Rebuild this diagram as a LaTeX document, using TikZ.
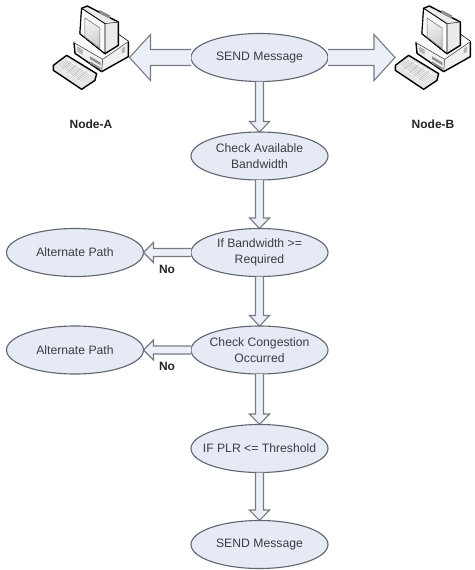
\documentclass[tikz,border=0pt]{standalone}
\usepackage{fontspec}
\setmainfont{Liberation Sans}
\usetikzlibrary{shapes.geometric,calc}
\definecolor{ellfill}{HTML}{E5EAF5}
\definecolor{ellline}{HTML}{5F6670}
\definecolor{arrfill}{HTML}{EBEFF8}
\definecolor{arrline}{HTML}{777B82}
\definecolor{txt}{HTML}{3A3D42}
\tikzset{
  flow/.style={ellipse,draw=ellline,fill=ellfill,line width=1.1pt,inner sep=0pt,outer sep=0pt,
    minimum width=137pt,minimum height=48pt,align=center,text=txt,
    font=\fontsize{12.2}{16.5}\selectfont},
  tag/.style={font=\bfseries\fontsize{12}{14}\selectfont,text=black!85,inner sep=0pt},
  conn/.style={draw=arrline,fill=arrfill,line width=1.1pt,line join=miter},
  pcline/.style={draw=black,line width=1.4pt,line join=round},
  pcthin/.style={draw=black!28,line width=.4pt},
}
\newcommand{\lbl}[1]{\makebox[0pt][c]{#1}}
\newcommand{\blockarrow}[5]{%
  \coordinate (ba) at ($(#2)!#5pt!(#1)$);
  \draw[conn] ($(#1)!#3pt!90:(#2)$) -- ($(ba)!#3pt!90:(#2)$) -- ($(ba)!#4pt!90:(#2)$) -- (#2)
    -- ($(ba)!#4pt!-90:(#2)$) -- ($(ba)!#3pt!-90:(#2)$) -- ($(#1)!#3pt!-90:(#2)$);}
\newcommand{\computer}[2]{%
  \begin{scope}[shift={(#1,#2)},x=0.3333pt,y=-0.3333pt]
    % keyboard
    \draw[pcline,fill=black!10] (10,190) -- (50,160) -- (140,215) -- (135,235) -- (95,262) -- (10,205) -- cycle;
    \fill[black!3] (22,190) -- (50,170) -- (126,216) -- (96,245) -- cycle;
    \foreach \t in {.2,.4,.6,.8}{
      \draw[pcthin] ($(22,190)!\t!(96,245)$) -- ($(50,170)!\t!(126,216)$);}
    \foreach \t in {.12,.24,.36,.48,.6,.72,.84}{
      \draw[pcthin] ($(22,190)!\t!(50,170)$) -- ($(96,245)!\t!(126,216)$);}
    % desktop box
    \draw[pcline,fill=black!6] (72,122) -- (75,154) -- (155,209) -- (235,164) -- (235,119) -- (200,94) -- cycle;
    \fill[black!2] (72,122) -- (158,172) -- (235,119) -- (200,94) -- (120,80) -- cycle;
    \draw[black!70,line width=.6pt] (72,122) -- (158,172) -- (235,119);
    \draw[black!70,line width=.6pt] (158,172) -- (155,209);
    % drive bays and vents
    \fill[black!45] (120,163) -- (152,182) -- (152,190) -- (120,171) -- cycle;
    \fill[black!45] (120,178) -- (152,197) -- (152,203) -- (120,185) -- cycle;
    \foreach \i in {0,2,4,6}{\draw[black!45,line width=.5pt] (82,{135+\i*2}) -- (98,{145+\i*2});}
    \foreach \i in {0,2,4,6}{\draw[black!45,line width=.5pt] (215,{142+\i*2}) -- (225,{135+\i*2});}
    % monitor
    \draw[pcline,fill=black!8] (95,19) -- (112,12) -- (205,60) -- (205,130) -- (165,155) -- (90,95) -- cycle;
    \draw[black,line width=.9pt,fill=black!2] (95,19) -- (165,65) -- (165,155) -- (90,95) -- cycle;
    \draw[black!60,line width=.5pt,top color=black!4,bottom color=black!20,shading angle=20] (105,48) -- (150,78) -- (150,140) -- (105,105) -- cycle;
    \draw[black!80,line width=.6pt] (165,65) -- (205,60);
    \fill[black!45] (148,24) -- (180,40) -- (180,50) -- (148,34) -- cycle;
  \end{scope}}
\begin{document}
\begin{tikzpicture}[x=1pt,y=-1pt]
\useasboundingbox (0,0) rectangle (474,570);
\fill[white] (0,0) rectangle (474,570);
\computer{50}{2}
\computer{392}{2}
\node[flow] (send) at (259.5,57.5) {\lbl{SEND Message}};
\node[flow] (check) at (259.5,156) {\lbl{Check Available}\\\lbl{Bandwidth}};
\node[flow] (ifbw) at (259.5,252.5) {\lbl{If Bandwidth >=}\\\lbl{Required}};
\node[flow] (cong) at (259.5,350) {\lbl{Check Congestion}\\\lbl{Occurred}};
\node[flow] (plr) at (259.5,448.5) {\lbl{IF PLR <= Threshold}};
\node[flow] (send2) at (259.5,544.5) {\lbl{SEND Message}};
\node[flow] (alt1) at (75,252.5) {\lbl{Alternate Path}};
\node[flow] (alt2) at (75,350) {\lbl{Alternate Path}};
\node[tag] (nodea) at (91,124) {Node-A};
\node[tag] (nodeb) at (433,124) {Node-B};
\node[tag] (no1) at (167,269) {No};
\node[tag] (no2) at (167,366) {No};
\coordinate (tipa) at (129.5,57.5);
\coordinate (tipb) at (395,57.5);
\blockarrow{send.west}{tipa}{8}{23}{21}
\blockarrow{send.east}{tipb}{8}{23}{21}
\blockarrow{send.south}{check.north}{4}{10}{10.5}
\blockarrow{check.south}{ifbw.north}{4}{10}{10.5}
\blockarrow{ifbw.south}{cong.north}{4}{10}{10.5}
\blockarrow{cong.south}{plr.north}{4}{10}{10.5}
\blockarrow{plr.south}{send2.north}{4}{10}{10.5}
\blockarrow{ifbw.west}{alt1.east}{4}{10}{10}
\blockarrow{cong.west}{alt2.east}{4}{10}{10}
\end{tikzpicture}
\end{document}
